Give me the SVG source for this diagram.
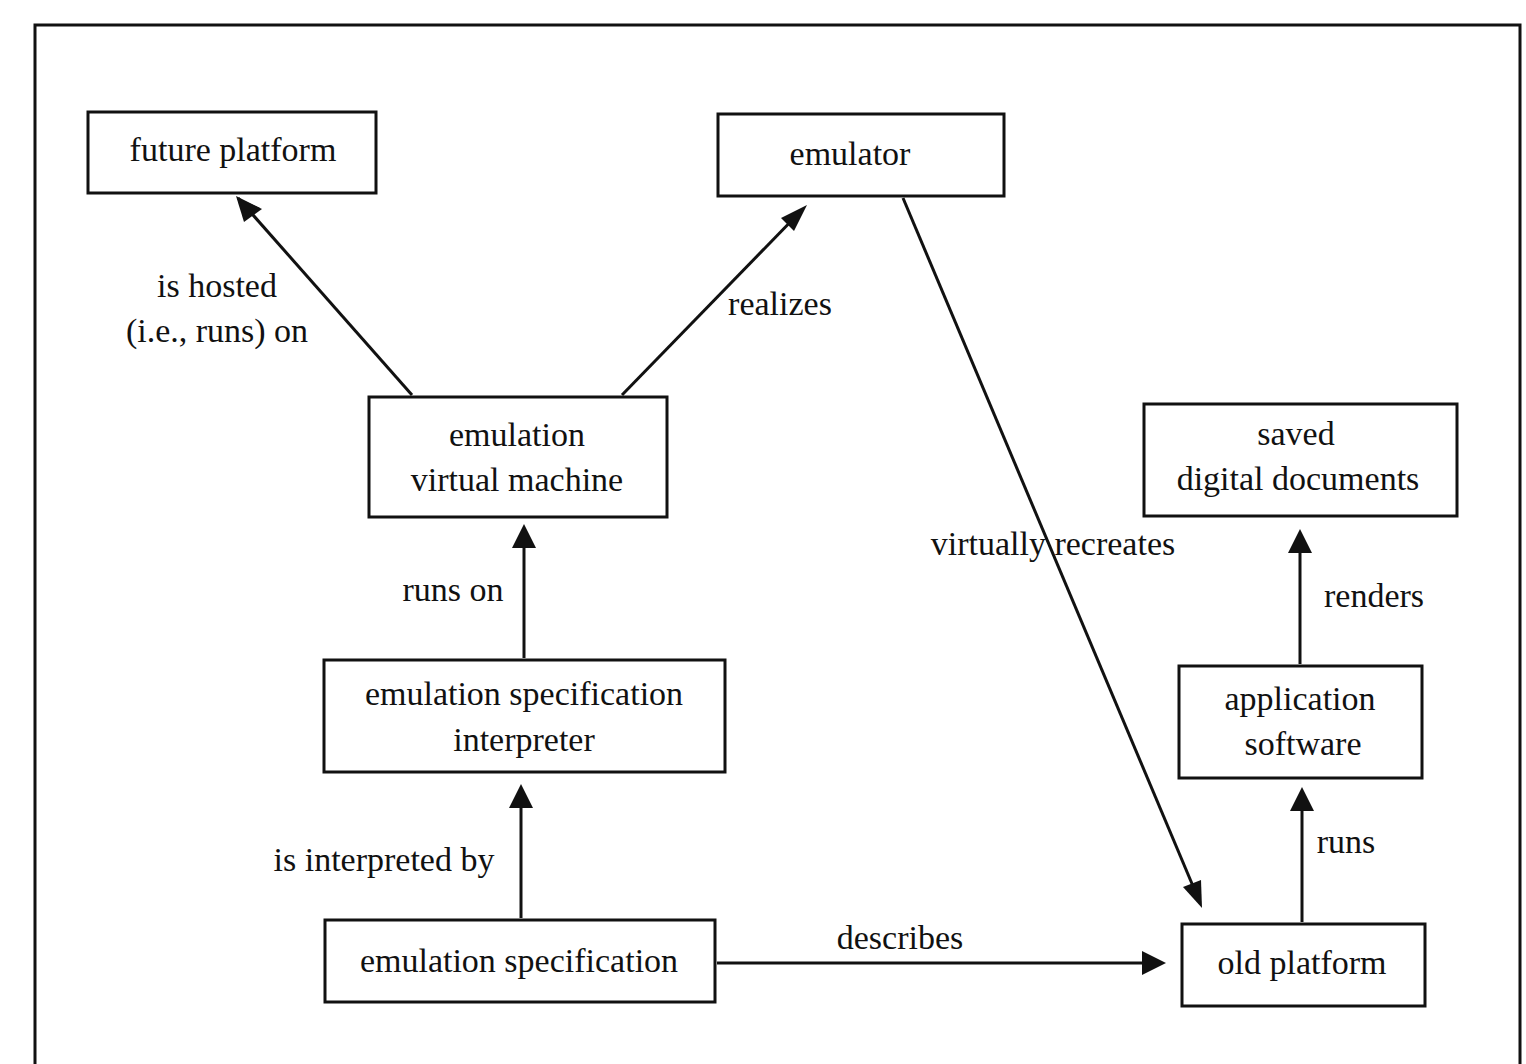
<svg xmlns="http://www.w3.org/2000/svg" width="1526" height="1064" viewBox="0 0 1526 1064">
<style>
.n{fill:#fff;stroke:#111;stroke-width:3}
text{font-family:"Liberation Serif",serif;font-size:34px;fill:#111;text-anchor:middle}
.c{stroke:#111;stroke-width:3;fill:none;marker-end:url(#a)}
</style>
<defs><marker id="a" markerWidth="10" markerHeight="10" refX="9" refY="5" orient="auto" markerUnits="userSpaceOnUse" viewBox="0 0 10 10"><path d="M0,0L10,5L0,10L3,5z" fill="#111"/></marker></defs>
<rect width="1526" height="1064" fill="#fff"/>
<rect x="35" y="25" width="1485" height="1060" fill="none" stroke="#111" stroke-width="3"/>
<g id="connectors">
<line class="c" x1="412" y1="395" x2="238" y2="198" style="marker-end:none"/>
<path d="M238,198 l22,10 l-8,0 l-4,8z" fill="#111"/>
<polygon points="236,196 262,209 244,222" fill="#111"/>
<line x1="622" y1="395" x2="800" y2="212" stroke="#111" stroke-width="3"/>
<polygon points="807,205 794,231 781,218" fill="#111"/>
<line x1="903" y1="198" x2="1198" y2="898" stroke="#111" stroke-width="3"/>
<polygon points="1202,908 1183,887 1201,880" fill="#111"/>
<line x1="524" y1="658" x2="524" y2="535" stroke="#111" stroke-width="3"/>
<polygon points="524,524 536,548 512,548" fill="#111"/>
<line x1="521" y1="918" x2="521" y2="795" stroke="#111" stroke-width="3"/>
<polygon points="521,784 533,808 509,808" fill="#111"/>
<line x1="717" y1="963" x2="1155" y2="963" stroke="#111" stroke-width="3"/>
<polygon points="1166,963 1142,975 1142,951" fill="#111"/>
<line x1="1300" y1="664" x2="1300" y2="540" stroke="#111" stroke-width="3"/>
<polygon points="1300,529 1312,553 1288,553" fill="#111"/>
<line x1="1302" y1="922" x2="1302" y2="798" stroke="#111" stroke-width="3"/>
<polygon points="1302,787 1314,811 1290,811" fill="#111"/>
</g>
<g id="labels">
<text x="217" y="297">is hosted</text>
<text x="217" y="342">(i.e., runs) on</text>
<text x="780" y="315">realizes</text>
<text x="1053" y="555">virtually recreates</text>
<text x="453" y="601">runs on</text>
<text x="384" y="871">is interpreted by</text>
<text x="900" y="949">describes</text>
<text x="1374" y="607">renders</text>
<text x="1346" y="853">runs</text>
</g>
<g id="future"><rect class="n" x="88" y="112" width="288" height="81"/><text x="233" y="161">future platform</text></g>
<g id="emulator"><rect class="n" x="718" y="114" width="286" height="82"/><text x="850" y="165">emulator</text></g>
<g id="evm"><rect class="n" x="369" y="397" width="298" height="120"/><text x="517" y="446">emulation</text><text x="517" y="491">virtual machine</text></g>
<g id="saved"><rect class="n" x="1144" y="404" width="313" height="112"/><text x="1296" y="445">saved</text><text x="1298" y="490">digital documents</text></g>
<g id="esi"><rect class="n" x="324" y="660" width="401" height="112"/><text x="524" y="705">emulation specification</text><text x="524" y="751">interpreter</text></g>
<g id="app"><rect class="n" x="1179" y="666" width="243" height="112"/><text x="1300" y="710">application</text><text x="1303" y="755">software</text></g>
<g id="es"><rect class="n" x="325" y="920" width="390" height="82"/><text x="519" y="972">emulation specification</text></g>
<g id="old"><rect class="n" x="1182" y="924" width="243" height="82"/><text x="1302" y="974">old platform</text></g>
</svg>
